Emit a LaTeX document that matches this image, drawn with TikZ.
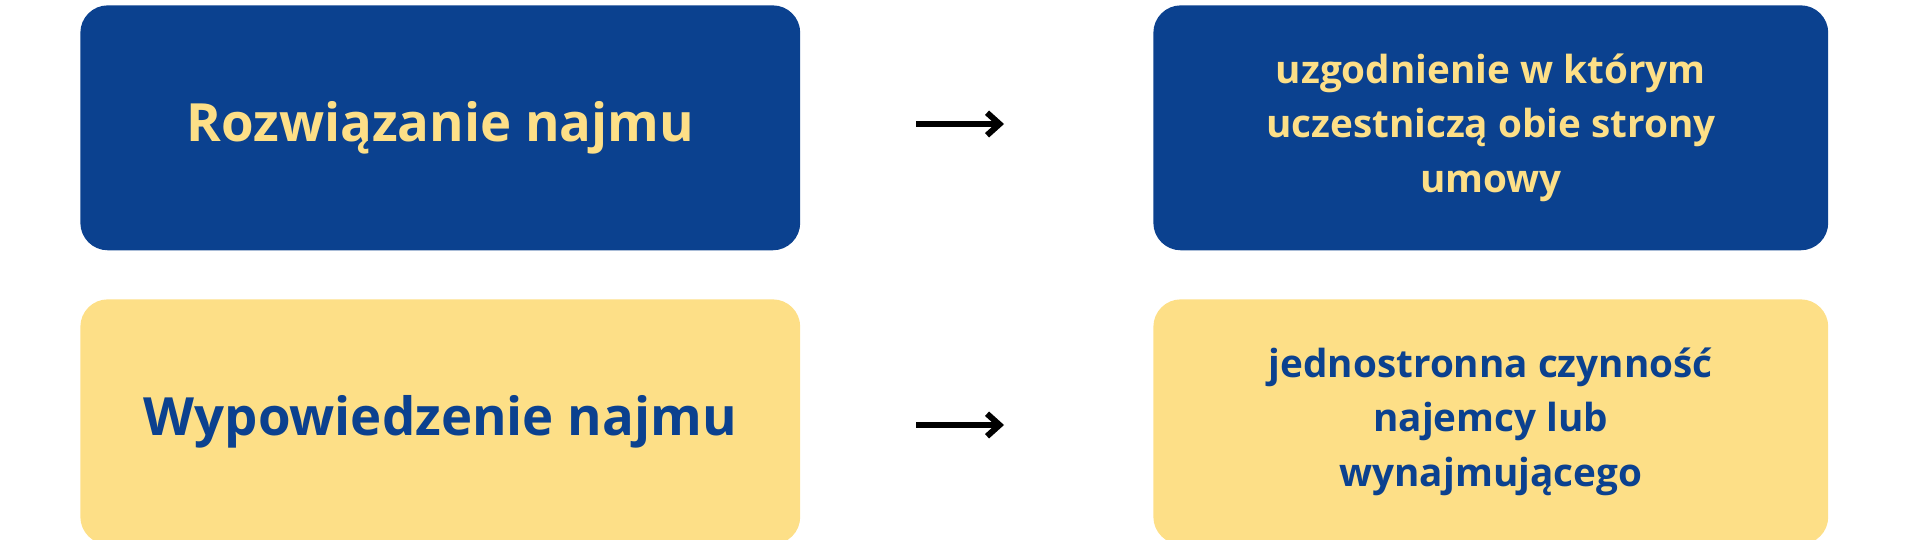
\documentclass[tikz,border=0pt]{standalone}
\usepackage{fontspec}
\setmainfont{Open Sans}
\usetikzlibrary{positioning, arrows.meta}
\definecolor{rnavy}{HTML}{0B418F}
\definecolor{ryellow}{HTML}{FDDF87}

\begin{document}
\begin{tikzpicture}[%
		x=0.02cm, y=-0.02cm,
		termbox/.style={
			rectangle,
			rounded corners=0.55cm,
			minimum width=14.4cm,
			minimum height=4.9cm,
			anchor=north west,
			align=center,
			font=\bfseries\fontsize{30}{36}\selectfont
		},
		defbox/.style={
			rectangle,
			rounded corners=0.55cm,
			minimum width=13.5cm,
			minimum height=4.9cm,
			anchor=north west,
			align=center,
			font=\bfseries\fontsize{22}{31}\selectfont
		},
		navybox/.style={fill=rnavy, text=ryellow},
		yellowbox/.style={fill=ryellow, text=rnavy},
		linkarrow/.style={
			line width=1.2mm,
			-{Straight Barb[length=2.5mm,width=4.5mm]}
		}]
		\useasboundingbox[clip] (0,0) rectangle (1920,540);

		% TOP ROW
		\node (term1) [termbox,navybox] at (80,5) {Rozwiązanie najmu};
		\node (def1) [defbox,navybox] at (1153,5) {uzgodnienie w którym\\uczestniczą obie strony\\umowy};

		% BOTTOM ROW
		\node (term2) [termbox,yellowbox] at (80,299) {Wypowiedzenie najmu};
		\node (def2) [defbox,yellowbox] at (1153,299) {jednostronna czynność\\najemcy lub\\wynajmującego};

		% ARROWS
		\coordinate (a1s) at (916,124);
		\coordinate (a1e) at (1004,124);
		\coordinate (a2s) at (916,425);
		\coordinate (a2e) at (1004,425);
		\draw[linkarrow] (a1s) -- (a1e);
		\draw[linkarrow] (a2s) -- (a2e);
\end{tikzpicture}
\end{document}
